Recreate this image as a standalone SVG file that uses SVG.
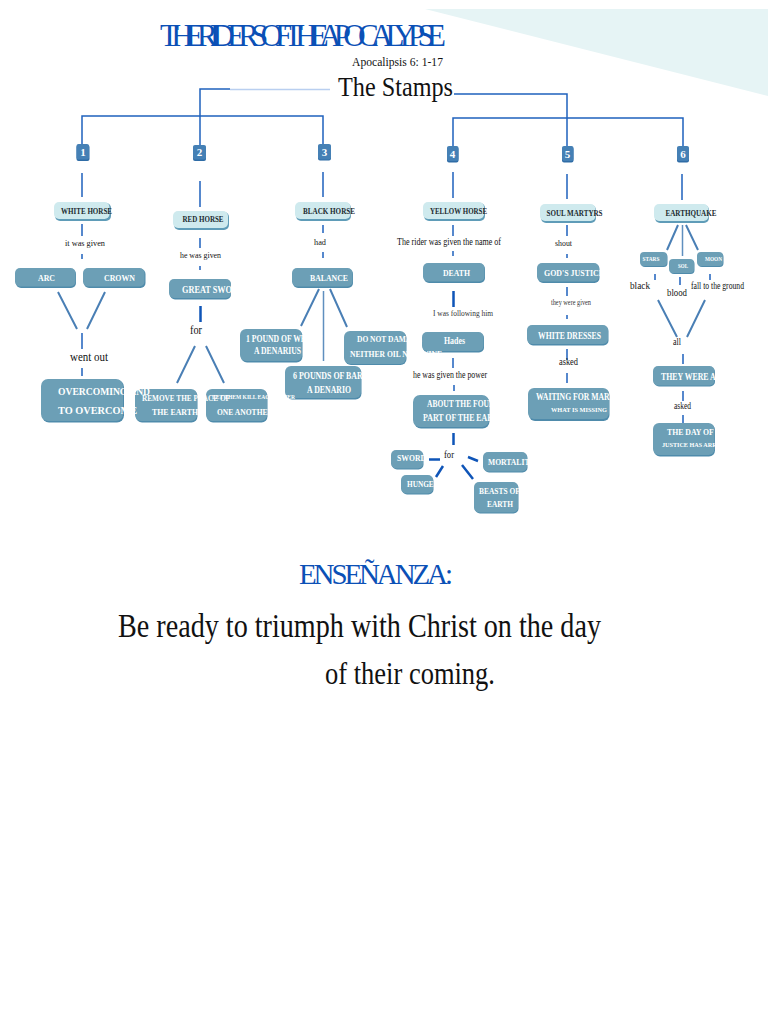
<svg xmlns="http://www.w3.org/2000/svg" width="768" height="1024" viewBox="0 0 768 1024">
<style>
text{font-family:"Liberation Serif","Times New Roman",serif;white-space:pre}
.c{fill:none;stroke:#1f62bd;stroke-width:1.5}
.t{stroke-width:2.5;stroke:#0f55b8}
.d{stroke:#4a7fb5;stroke-width:2}
.s{fill:#4f8bab}.b{fill:#6c9fb6}
.ps{fill:#5f9cb8}.p{fill:#cfeaee}
.ns{fill:#2f6ca6}.n{fill:#4580b5}
.w{fill:#fff;font-weight:bold}
.k{fill:#1c2a30;font-weight:bold;font-size:8px}
.l{fill:#111}
</style>
<rect width="768" height="1024" fill="#fff"/>
<polygon points="425,9 768,9 768,96" fill="#e6f4f5"/>
<text id="title" x="160" y="46" font-size="31" fill="#0b50b6" textLength="286" lengthAdjust="spacing">THE RIDERS OF THE APOCALYPSE</text>
<text id="subtitle" x="352" y="66" font-size="12.5" class="l" textLength="91" lengthAdjust="spacingAndGlyphs">Apocalipsis 6: 1-17</text>
<g id="connectors">
<path class="c" d="M230 89H200V145M82 144V116H323V144"/>
<path d="M230 89.500H330" stroke="#b9cff0" stroke-width="1.500" fill="none"/>
<path class="c" d="M454 94H567V146M453 146V118H683V146"/>
<path class="c" d="M82 173V197M200 181V207M323 172V197M453 172V198M567 174V199M682 174V200"/>
<path class="c" d="M82 224V236M82 254V259M200 238V248M200 266V270M323 225V233M323 252V258M453 225V236M453 251V256M567 225V236M567 254V258"/>
<path class="d" d="M58 292L77 329M105 292L87 329M195 346L177 383M206 346L224 383M319 289L301 326M330 289L347 327M678 225L667 250M686 225L698 250M658 300L677 337M705 300L687 337"/>
<path class="c" d="M82 333V349M82 368V376"/>
<path class="c t" d="M200.500 306V322M453.500 291V307M453.500 433V445"/>
<path d="M323.500 291V361M682.500 225V256" fill="none" stroke="#5f8fbf" stroke-width="1.500"/>
<path class="c" d="M453 358V368M454 385V391M567 287V296M567 315V319M567 349V360M567 373V383"/>
<path class="c" d="M655 274V280M680 277V285M710 274V280M683 354V364M683 391V401M683 415V424"/>
<path class="c t" stroke-width="2" d="M429 459.500H440M443 466L436 477M468 457L478 461M462 465L473 479"/>
</g>

<g id="n1"><rect class="ns" x="76.500" y="145" width="13" height="16" rx="2"/><rect class="n" x="76.500" y="144" width="12.500" height="15.500" rx="2"/><text class="w" x="83" y="156" font-size="11" text-anchor="middle">1</text></g>
<g id="n2"><rect class="ns" x="193" y="146" width="13" height="15" rx="2"/><rect class="n" x="193" y="145" width="13" height="14.500" rx="2"/><text class="w" x="199.500" y="156" font-size="11" text-anchor="middle">2</text></g>
<g id="n3"><rect class="ns" x="318" y="145" width="13" height="15.500" rx="2"/><rect class="n" x="318" y="144" width="13" height="15.500" rx="2"/><text class="w" x="324.500" y="156" font-size="11" text-anchor="middle">3</text></g>
<g id="n4"><rect class="ns" x="447" y="147" width="11.500" height="15.500" rx="2"/><rect class="n" x="447" y="146" width="11.500" height="15" rx="2"/><text class="w" x="452.500" y="158" font-size="11" text-anchor="middle">4</text></g>
<g id="n5"><rect class="ns" x="562" y="147" width="11.500" height="15.500" rx="2"/><rect class="n" x="562" y="146" width="11.500" height="15" rx="2"/><text class="w" x="567.500" y="158" font-size="11" text-anchor="middle">5</text></g>
<g id="n6"><rect class="ns" x="677" y="147" width="12" height="15.500" rx="2"/><rect class="n" x="677" y="146" width="12" height="15" rx="2"/><text class="w" x="683" y="158" font-size="11" text-anchor="middle">6</text></g>

<g id="white-horse"><rect class="ps" x="55" y="203" width="56" height="18" rx="5"/><rect class="p" x="54" y="202" width="55.500" height="17" rx="5"/><text class="k" x="61" y="214" textLength="51" lengthAdjust="spacingAndGlyphs">WHITE HORSE</text></g>
<g id="red-horse"><rect class="ps" x="174" y="212" width="55" height="18" rx="5"/><rect class="p" x="173" y="211" width="55" height="17" rx="5"/><text class="k" x="182.500" y="222" textLength="41" lengthAdjust="spacingAndGlyphs">RED HORSE</text></g>
<g id="black-horse"><rect class="ps" x="296" y="203" width="55" height="18" rx="5"/><rect class="p" x="295" y="202" width="55.500" height="17" rx="5"/><text class="k" x="303" y="214" textLength="52" lengthAdjust="spacingAndGlyphs">BLACK HORSE</text></g>
<g id="yellow-horse"><rect class="ps" x="424" y="203" width="61" height="18" rx="5"/><rect class="p" x="423" y="202" width="61" height="17" rx="5"/><text class="k" x="430" y="214" textLength="57" lengthAdjust="spacingAndGlyphs">YELLOW HORSE</text></g>
<g id="soul-martyrs"><rect class="ps" x="541" y="205" width="55" height="18" rx="5"/><rect class="p" x="540" y="204" width="55.500" height="17" rx="5"/><text class="k" x="546.500" y="216" textLength="56" lengthAdjust="spacingAndGlyphs">SOUL MARTYRS</text></g>
<g id="earthquake"><rect class="ps" x="655" y="205" width="54" height="18" rx="5"/><rect class="p" x="654" y="204" width="54.500" height="17" rx="5"/><text class="k" x="665.500" y="216" textLength="51" lengthAdjust="spacingAndGlyphs">EARTHQUAKE</text></g>

<g id="arc"><rect class="s" x="16" y="269" width="60" height="19" rx="5"/><rect class="b" x="15" y="268" width="60.500" height="18.500" rx="5"/><text class="w" x="38" y="281" font-size="9" textLength="17" lengthAdjust="spacingAndGlyphs">ARC</text></g>
<g id="crown"><rect class="s" x="84" y="269" width="61.500" height="19" rx="5"/><rect class="b" x="83" y="268" width="61.500" height="18.500" rx="5"/><text class="w" x="104" y="281" font-size="9" textLength="31" lengthAdjust="spacingAndGlyphs">CROWN</text></g>
<g id="great-sword"><rect class="s" x="170" y="280" width="61" height="19.500" rx="5"/><rect class="b" x="169" y="279" width="62" height="19" rx="5"/><text class="w" x="182" y="293" font-size="9.500" textLength="62" lengthAdjust="spacingAndGlyphs">GREAT SWORD</text></g>
<g id="balance"><rect class="s" x="293" y="269" width="60" height="19" rx="5"/><rect class="b" x="292" y="268" width="60.500" height="18.500" rx="5"/><text class="w" x="310" y="281" font-size="9" textLength="38" lengthAdjust="spacingAndGlyphs">BALANCE</text></g>
<g id="one-pound"><rect class="s" x="241" y="330" width="61.500" height="32.500" rx="6"/><rect class="b" x="240" y="329" width="62" height="32" rx="6"/><text class="w" x="246" y="342" font-size="9.500" textLength="76" lengthAdjust="spacingAndGlyphs">1 POUND OF WHEAT</text><text class="w" x="254" y="354" font-size="9.500" textLength="47" lengthAdjust="spacingAndGlyphs">A DENARIUS</text></g>
<g id="do-not-damage"><rect class="s" x="345" y="332" width="61.500" height="33" rx="6"/><rect class="b" x="344" y="331" width="62" height="33" rx="6"/></g>
<g id="six-pounds"><rect class="s" x="286" y="367" width="75.500" height="32.500" rx="6"/><rect class="b" x="285" y="366" width="76" height="32" rx="6"/><text class="w" x="293" y="379" font-size="9.500" textLength="86" lengthAdjust="spacingAndGlyphs">6 POUNDS OF BARLEY</text><text class="w" x="307" y="393" font-size="9.500" textLength="44" lengthAdjust="spacingAndGlyphs">A DENARIO</text></g>
<g id="one-another"><rect class="s" x="207" y="390" width="60.500" height="32.500" rx="6"/><rect class="b" x="206" y="389" width="61" height="32" rx="6"/><text class="w" x="212" y="399" font-size="6.500" textLength="83" lengthAdjust="spacingAndGlyphs">LET THEM KILL EACH OTHER</text><text class="w" x="217" y="415" font-size="9" textLength="56" lengthAdjust="spacingAndGlyphs">ONE ANOTHER</text></g>
<g id="remove-peace"><rect class="s" x="136" y="390" width="61.500" height="32.500" rx="6"/><rect class="b" x="135" y="389" width="62" height="32" rx="6"/><text class="w" x="142" y="401" font-size="8.500" textLength="88" lengthAdjust="spacingAndGlyphs">REMOVE THE PEACE OF</text><text class="w" x="152" y="415" font-size="9" textLength="46" lengthAdjust="spacingAndGlyphs">THE EARTH</text></g>
<g id="overcoming"><rect class="s" x="42" y="380" width="82" height="42.500" rx="7"/><rect class="b" x="41" y="379" width="82" height="42" rx="7"/><text class="w" x="58" y="395" font-size="11" textLength="92" lengthAdjust="spacingAndGlyphs">OVERCOMING AND</text><text class="w" x="58" y="414" font-size="11" textLength="79" lengthAdjust="spacingAndGlyphs">TO OVERCOME</text></g>

<g id="death"><rect class="s" x="424" y="264" width="61" height="19" rx="5"/><rect class="b" x="423" y="263" width="61.500" height="18.500" rx="5"/><text class="w" x="443" y="276" font-size="9" textLength="27" lengthAdjust="spacingAndGlyphs">DEATH</text></g>
<g id="hades"><rect class="s" x="423" y="333" width="61" height="19.500" rx="5"/><rect class="b" x="422" y="332" width="61.500" height="19" rx="5"/><text class="w" x="444" y="344" font-size="9.500" textLength="21" lengthAdjust="spacingAndGlyphs">Hades</text></g>
<g id="do-not-damage-text"><text class="w" x="357" y="342" font-size="7.500" textLength="65" lengthAdjust="spacingAndGlyphs">DO NOT DAMAGE</text><text class="w" x="350" y="357" font-size="8.500" textLength="92" lengthAdjust="spacingAndGlyphs">NEITHER OIL NOR WINE</text></g>
<g id="fourth-part"><rect class="s" x="414" y="396" width="75.500" height="32.500" rx="7"/><rect class="b" x="413" y="395" width="76" height="32" rx="7"/><text class="w" x="427" y="407" font-size="9.500" textLength="78" lengthAdjust="spacingAndGlyphs">ABOUT THE FOURTH</text><text class="w" x="423" y="421" font-size="9.500" textLength="81" lengthAdjust="spacingAndGlyphs">PART OF THE EARTH</text></g>
<g id="sword"><rect class="s" x="392" y="451" width="31.500" height="18.500" rx="5"/><rect class="b" x="391" y="450" width="32" height="18.500" rx="5"/><text class="w" x="397" y="461" font-size="8.500" textLength="29" lengthAdjust="spacingAndGlyphs">SWORD</text></g>
<g id="hunger"><rect class="s" x="402" y="476" width="31.500" height="18.500" rx="5"/><rect class="b" x="401" y="475" width="32" height="18.500" rx="5"/><text class="w" x="407" y="487" font-size="8.500" textLength="32" lengthAdjust="spacingAndGlyphs">HUNGER</text></g>
<g id="mortality"><rect class="s" x="484" y="453" width="43.500" height="19.500" rx="5"/><rect class="b" x="483" y="452" width="44" height="19.500" rx="5"/><text class="w" x="488" y="465" font-size="8.500" textLength="47" lengthAdjust="spacingAndGlyphs">MORTALITY</text></g>
<g id="beasts"><rect class="s" x="475" y="483" width="43.500" height="30.500" rx="5"/><rect class="b" x="474" y="482" width="44" height="30.500" rx="5"/><text class="w" x="479" y="494" font-size="8" textLength="58" lengthAdjust="spacingAndGlyphs">BEASTS OF THE</text><text class="w" x="487" y="507" font-size="8.500" textLength="26" lengthAdjust="spacingAndGlyphs">EARTH</text></g>

<g id="gods-justice"><rect class="s" x="538" y="264" width="61.500" height="19" rx="5"/><rect class="b" x="537" y="263" width="62" height="18.500" rx="5"/><text class="w" x="544" y="276" font-size="9" textLength="60" lengthAdjust="spacingAndGlyphs">GOD'S JUSTICE</text></g>
<g id="white-dresses"><rect class="s" x="528" y="326" width="80.500" height="19.500" rx="5"/><rect class="b" x="527" y="325" width="81" height="19" rx="5"/><text class="w" x="538" y="339" font-size="9.500" textLength="63" lengthAdjust="spacingAndGlyphs">WHITE DRESSES</text></g>
<g id="waiting"><rect class="s" x="529" y="389" width="80.500" height="32" rx="6"/><rect class="b" x="528" y="388" width="81" height="31" rx="6"/><text class="w" x="536" y="400" font-size="9.500" textLength="94" lengthAdjust="spacingAndGlyphs">WAITING FOR MARTYRS</text><text class="w" x="551" y="412" font-size="7" textLength="56" lengthAdjust="spacingAndGlyphs">WHAT IS MISSING</text></g>

<g id="stars"><rect class="s" x="641" y="253" width="26.500" height="14" rx="4"/><rect class="b" x="640" y="252" width="27" height="14" rx="4"/><text class="w" x="642.500" y="261" font-size="6" textLength="17" lengthAdjust="spacingAndGlyphs">STARS</text></g>
<g id="sol"><rect class="s" x="670" y="260" width="24.500" height="14" rx="4"/><rect class="b" x="669" y="259" width="25" height="14" rx="4"/><text class="w" x="678" y="268" font-size="6" textLength="10" lengthAdjust="spacingAndGlyphs">SOL</text></g>
<g id="moon"><rect class="s" x="698" y="253" width="25.500" height="14" rx="4"/><rect class="b" x="697" y="252" width="26" height="14" rx="4"/><text class="w" x="705" y="261" font-size="6" textLength="17" lengthAdjust="spacingAndGlyphs">MOON</text></g>
<g id="they-were"><rect class="s" x="654" y="367" width="61" height="19.500" rx="5"/><rect class="b" x="653" y="366" width="61.500" height="19.500" rx="5"/><text class="w" x="661" y="380" font-size="9.500" textLength="76" lengthAdjust="spacingAndGlyphs">THEY WERE ASKED</text></g>
<g id="day-of"><rect class="s" x="654" y="424" width="61" height="32.500" rx="6"/><rect class="b" x="653" y="423" width="61.500" height="32" rx="6"/><text class="w" x="667" y="435" font-size="8.500" textLength="78" lengthAdjust="spacingAndGlyphs">THE DAY OF WRATH</text><text class="w" x="662" y="447" font-size="7" textLength="70" lengthAdjust="spacingAndGlyphs">JUSTICE HAS ARRIVED</text></g>

<g id="labels" class="l">
<text x="65" y="246" font-size="9" textLength="40" lengthAdjust="spacingAndGlyphs">it was given</text>
<text x="180" y="258" font-size="9" textLength="41" lengthAdjust="spacingAndGlyphs">he was given</text>
<text x="314" y="245" font-size="9" textLength="12" lengthAdjust="spacingAndGlyphs">had</text>
<text x="70" y="361" font-size="11.500" textLength="38" lengthAdjust="spacingAndGlyphs">went out</text>
<text x="190" y="334" font-size="13" textLength="12" lengthAdjust="spacingAndGlyphs">for</text>
<text x="397" y="245" font-size="10" textLength="104" lengthAdjust="spacingAndGlyphs">The rider was given the name of</text>
<text x="433" y="316" font-size="9" fill="#333" textLength="60" lengthAdjust="spacingAndGlyphs">I was following him</text>
<text x="413" y="378" font-size="9.500" textLength="74" lengthAdjust="spacingAndGlyphs">he was given the power</text>
<text x="444" y="458" font-size="10.500" textLength="10" lengthAdjust="spacingAndGlyphs">for</text>
<text x="555" y="246" font-size="9" textLength="17" lengthAdjust="spacingAndGlyphs">shout</text>
<text x="551" y="305" font-size="7.500" fill="#333" textLength="40" lengthAdjust="spacingAndGlyphs">they were given</text>
<text x="559" y="365" font-size="9.500" textLength="19" lengthAdjust="spacingAndGlyphs">asked</text>
<text x="630" y="289" font-size="11" textLength="20" lengthAdjust="spacingAndGlyphs">black</text>
<text x="667" y="296" font-size="10.500" textLength="20" lengthAdjust="spacingAndGlyphs">blood</text>
<text x="691" y="289" font-size="9.500" textLength="53" lengthAdjust="spacingAndGlyphs">fall to the ground</text>
<text x="673" y="345" font-size="10" textLength="8" lengthAdjust="spacingAndGlyphs">all</text>
<text x="674" y="409" font-size="9.500" textLength="17" lengthAdjust="spacingAndGlyphs">asked</text>
</g>
<text id="stamps" x="338" y="96" font-size="28" class="l" textLength="115" lengthAdjust="spacingAndGlyphs">The Stamps</text>
<text id="ensenanza" x="299" y="584" font-size="29" fill="#0b50b6" textLength="154" lengthAdjust="spacing">ENSEÑANZA:</text>
<text id="teaching-1" x="118" y="637" font-size="34" class="l" textLength="483" lengthAdjust="spacingAndGlyphs">Be ready to triumph with Christ on the day</text>
<text id="teaching-2" x="325" y="684" font-size="31" class="l" textLength="170" lengthAdjust="spacingAndGlyphs">of their coming.</text>
</svg>
